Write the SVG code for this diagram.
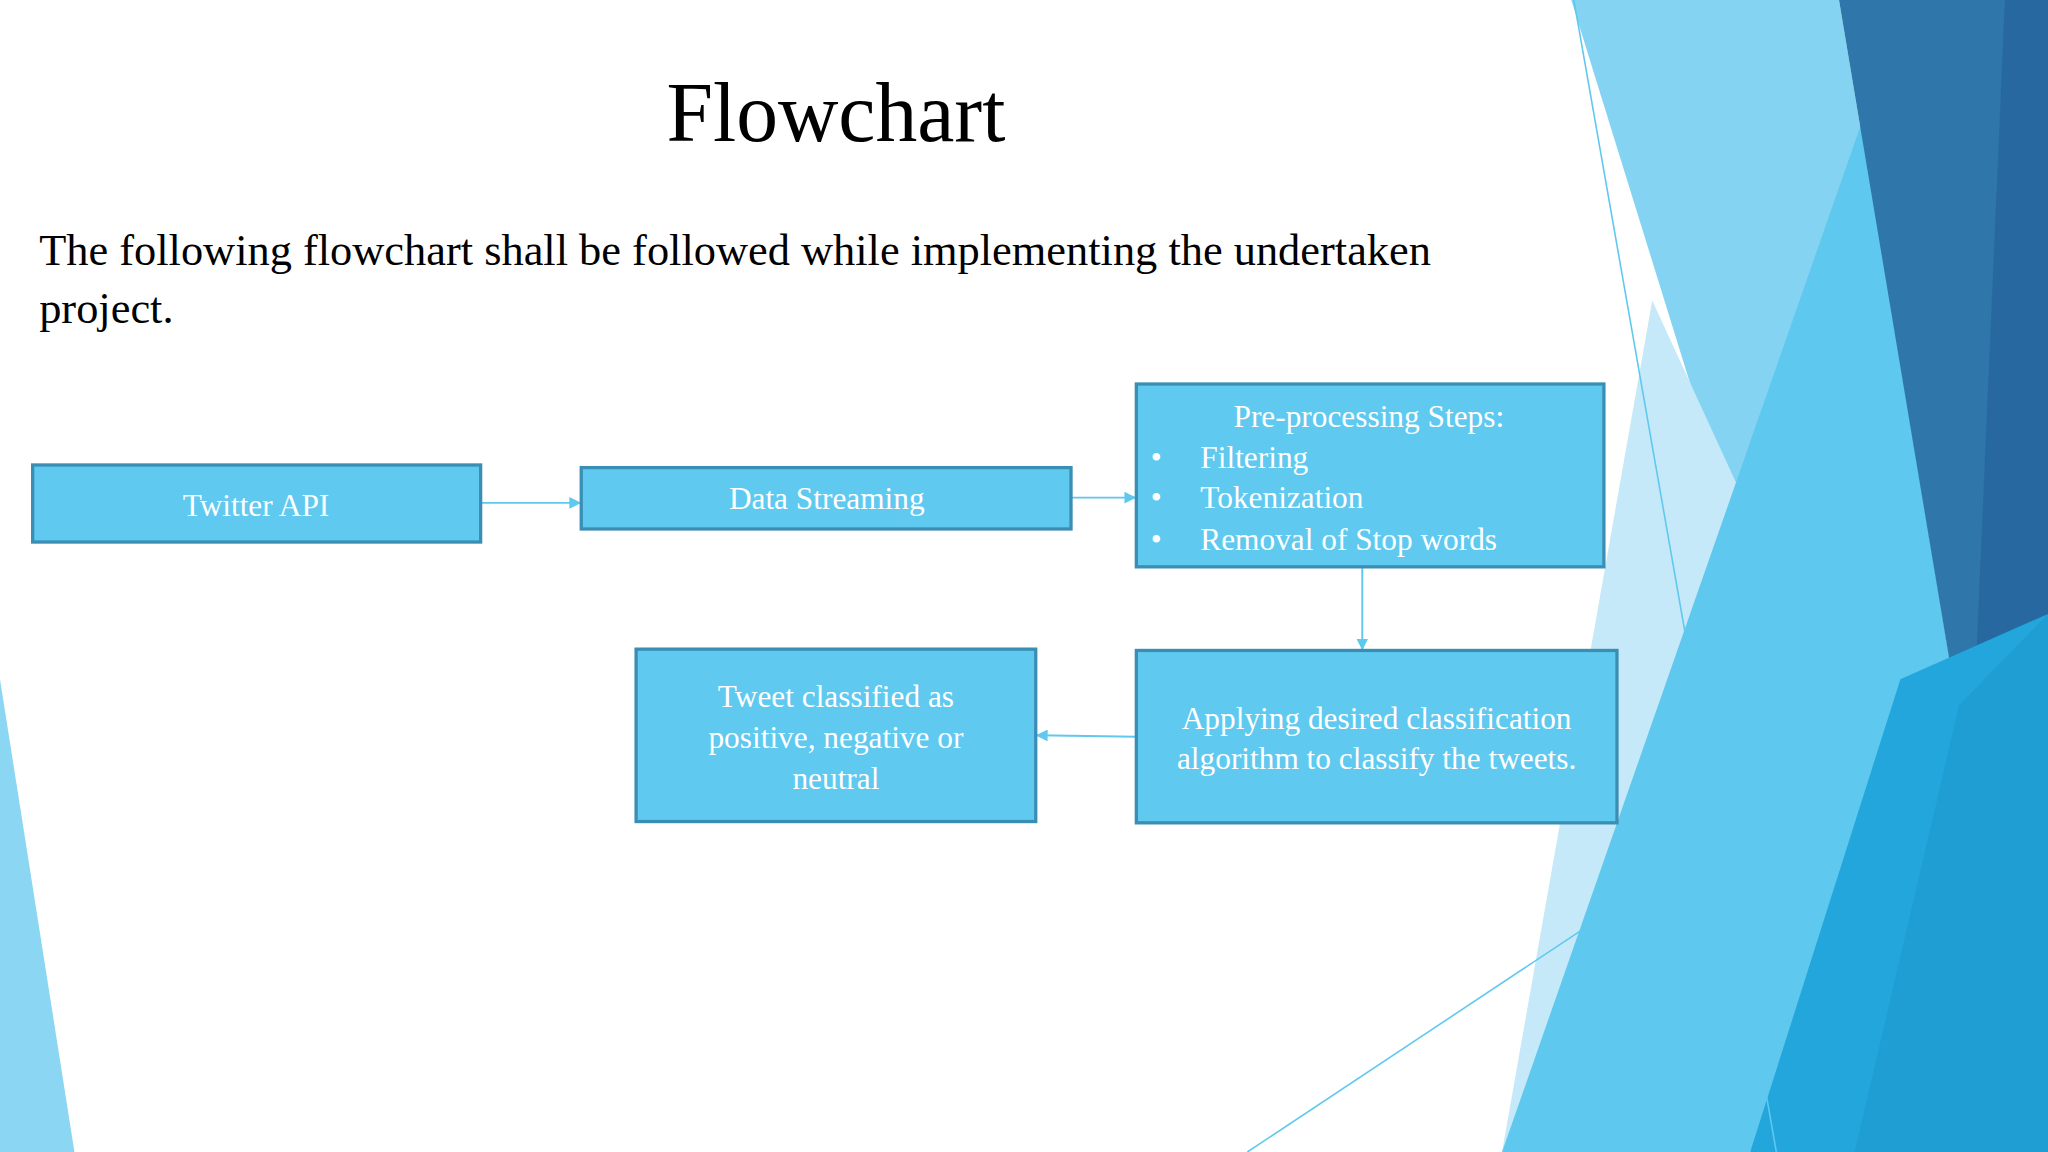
<svg xmlns="http://www.w3.org/2000/svg" width="2048" height="1152" viewBox="0 0 2048 1152">
<defs>
<style>
.box{fill:#5fc9ef;stroke:#3a8db3;stroke-width:2.5}
.t{fill:#fff;font-family:"Liberation Serif",serif;font-size:24px}
.c{stroke:#5ec8ee;stroke-width:1.5;fill:none}
</style>
<marker id="a" viewBox="0 0 10 10" refX="9" refY="5" markerWidth="6" markerHeight="6" orient="auto"><path d="M0,0L10,5L0,10z" fill="#5ec8ee"/></marker>
</defs>
<rect width="2048" height="1152" fill="#fff"/>
<g transform="scale(1.30612)">
<g id="background">
<polygon points="0,520 0,882 57,882" fill="#8ad6f3"/>
<polygon points="1203,0 1408,0 1505,580 1420,700" fill="#84d3f2"/>
<polygon points="1265,230 1380,480 1220,882 1150,882" fill="#c5e9f8"/>
<polygon points="1425,95 1505,580 1340,882 1150,882" fill="#5fc8ee"/>
<polygon points="1408,0 1568,0 1568,520 1505,580" fill="#2f76aa"/>
<polygon points="1535,0 1568,0 1568,520 1510,575" fill="#2868a0"/>
<polygon points="1568,470 1568,882 1340,882 1455,520" fill="#22a6dc"/>
<polygon points="1568,470 1568,882 1420,882 1500,540" fill="#1f9ed4"/>
<line x1="1205" y1="0" x2="1360" y2="882" stroke="#5ec8ee" stroke-width="1.2"/>
<line x1="955" y1="882" x2="1410" y2="580" stroke="#5ec8ee" stroke-width="1.2"/>
</g>
<text x="640" y="108" text-anchor="middle" font-family="Liberation Serif,serif" font-size="64" fill="#000">Flowchart</text>
<text font-family="Liberation Serif,serif" font-size="34" fill="#000"><tspan x="30" y="203">The following flowchart shall be followed while implementing the undertaken</tspan><tspan x="30" y="247">project.</tspan></text>
<g id="connectors">
<line class="c" x1="368" y1="385" x2="444" y2="385" marker-end="url(#a)"/>
<line class="c" x1="820" y1="381" x2="869" y2="381" marker-end="url(#a)"/>
<line class="c" x1="1043" y1="435" x2="1043" y2="497" marker-end="url(#a)"/>
<line class="c" x1="870" y1="564" x2="794" y2="563" marker-end="url(#a)"/>
</g>
<g id="twitter"><rect class="box" x="25" y="356" width="343" height="59"/><text class="t" x="196" y="395" text-anchor="middle">Twitter API</text></g>
<g id="streaming"><rect class="box" x="445" y="358" width="375" height="47"/><text class="t" x="633" y="390" text-anchor="middle">Data Streaming</text></g>
<g id="preprocessing"><rect class="box" x="870" y="294" width="358" height="140"/>
<text class="t" x="1048" y="327" text-anchor="middle">Pre-processing Steps:</text>
<text class="t" x="881" y="358">•</text><text class="t" x="919" y="358">Filtering</text>
<text class="t" x="881" y="389">•</text><text class="t" x="919" y="389">Tokenization</text>
<text class="t" x="881" y="421">•</text><text class="t" x="919" y="421">Removal of Stop words</text></g>
<g id="classify"><rect class="box" x="870" y="498" width="368" height="132"/>
<text class="t" x="1054" y="558" text-anchor="middle">Applying desired classification</text>
<text class="t" x="1054" y="589" text-anchor="middle">algorithm to classify the tweets.</text></g>
<g id="result"><rect class="box" x="487" y="497" width="306" height="132"/>
<text class="t" x="640" y="541" text-anchor="middle">Tweet classified as</text>
<text class="t" x="640" y="573" text-anchor="middle">positive, negative or</text>
<text class="t" x="640" y="604" text-anchor="middle">neutral</text></g>
</g>
</svg>
